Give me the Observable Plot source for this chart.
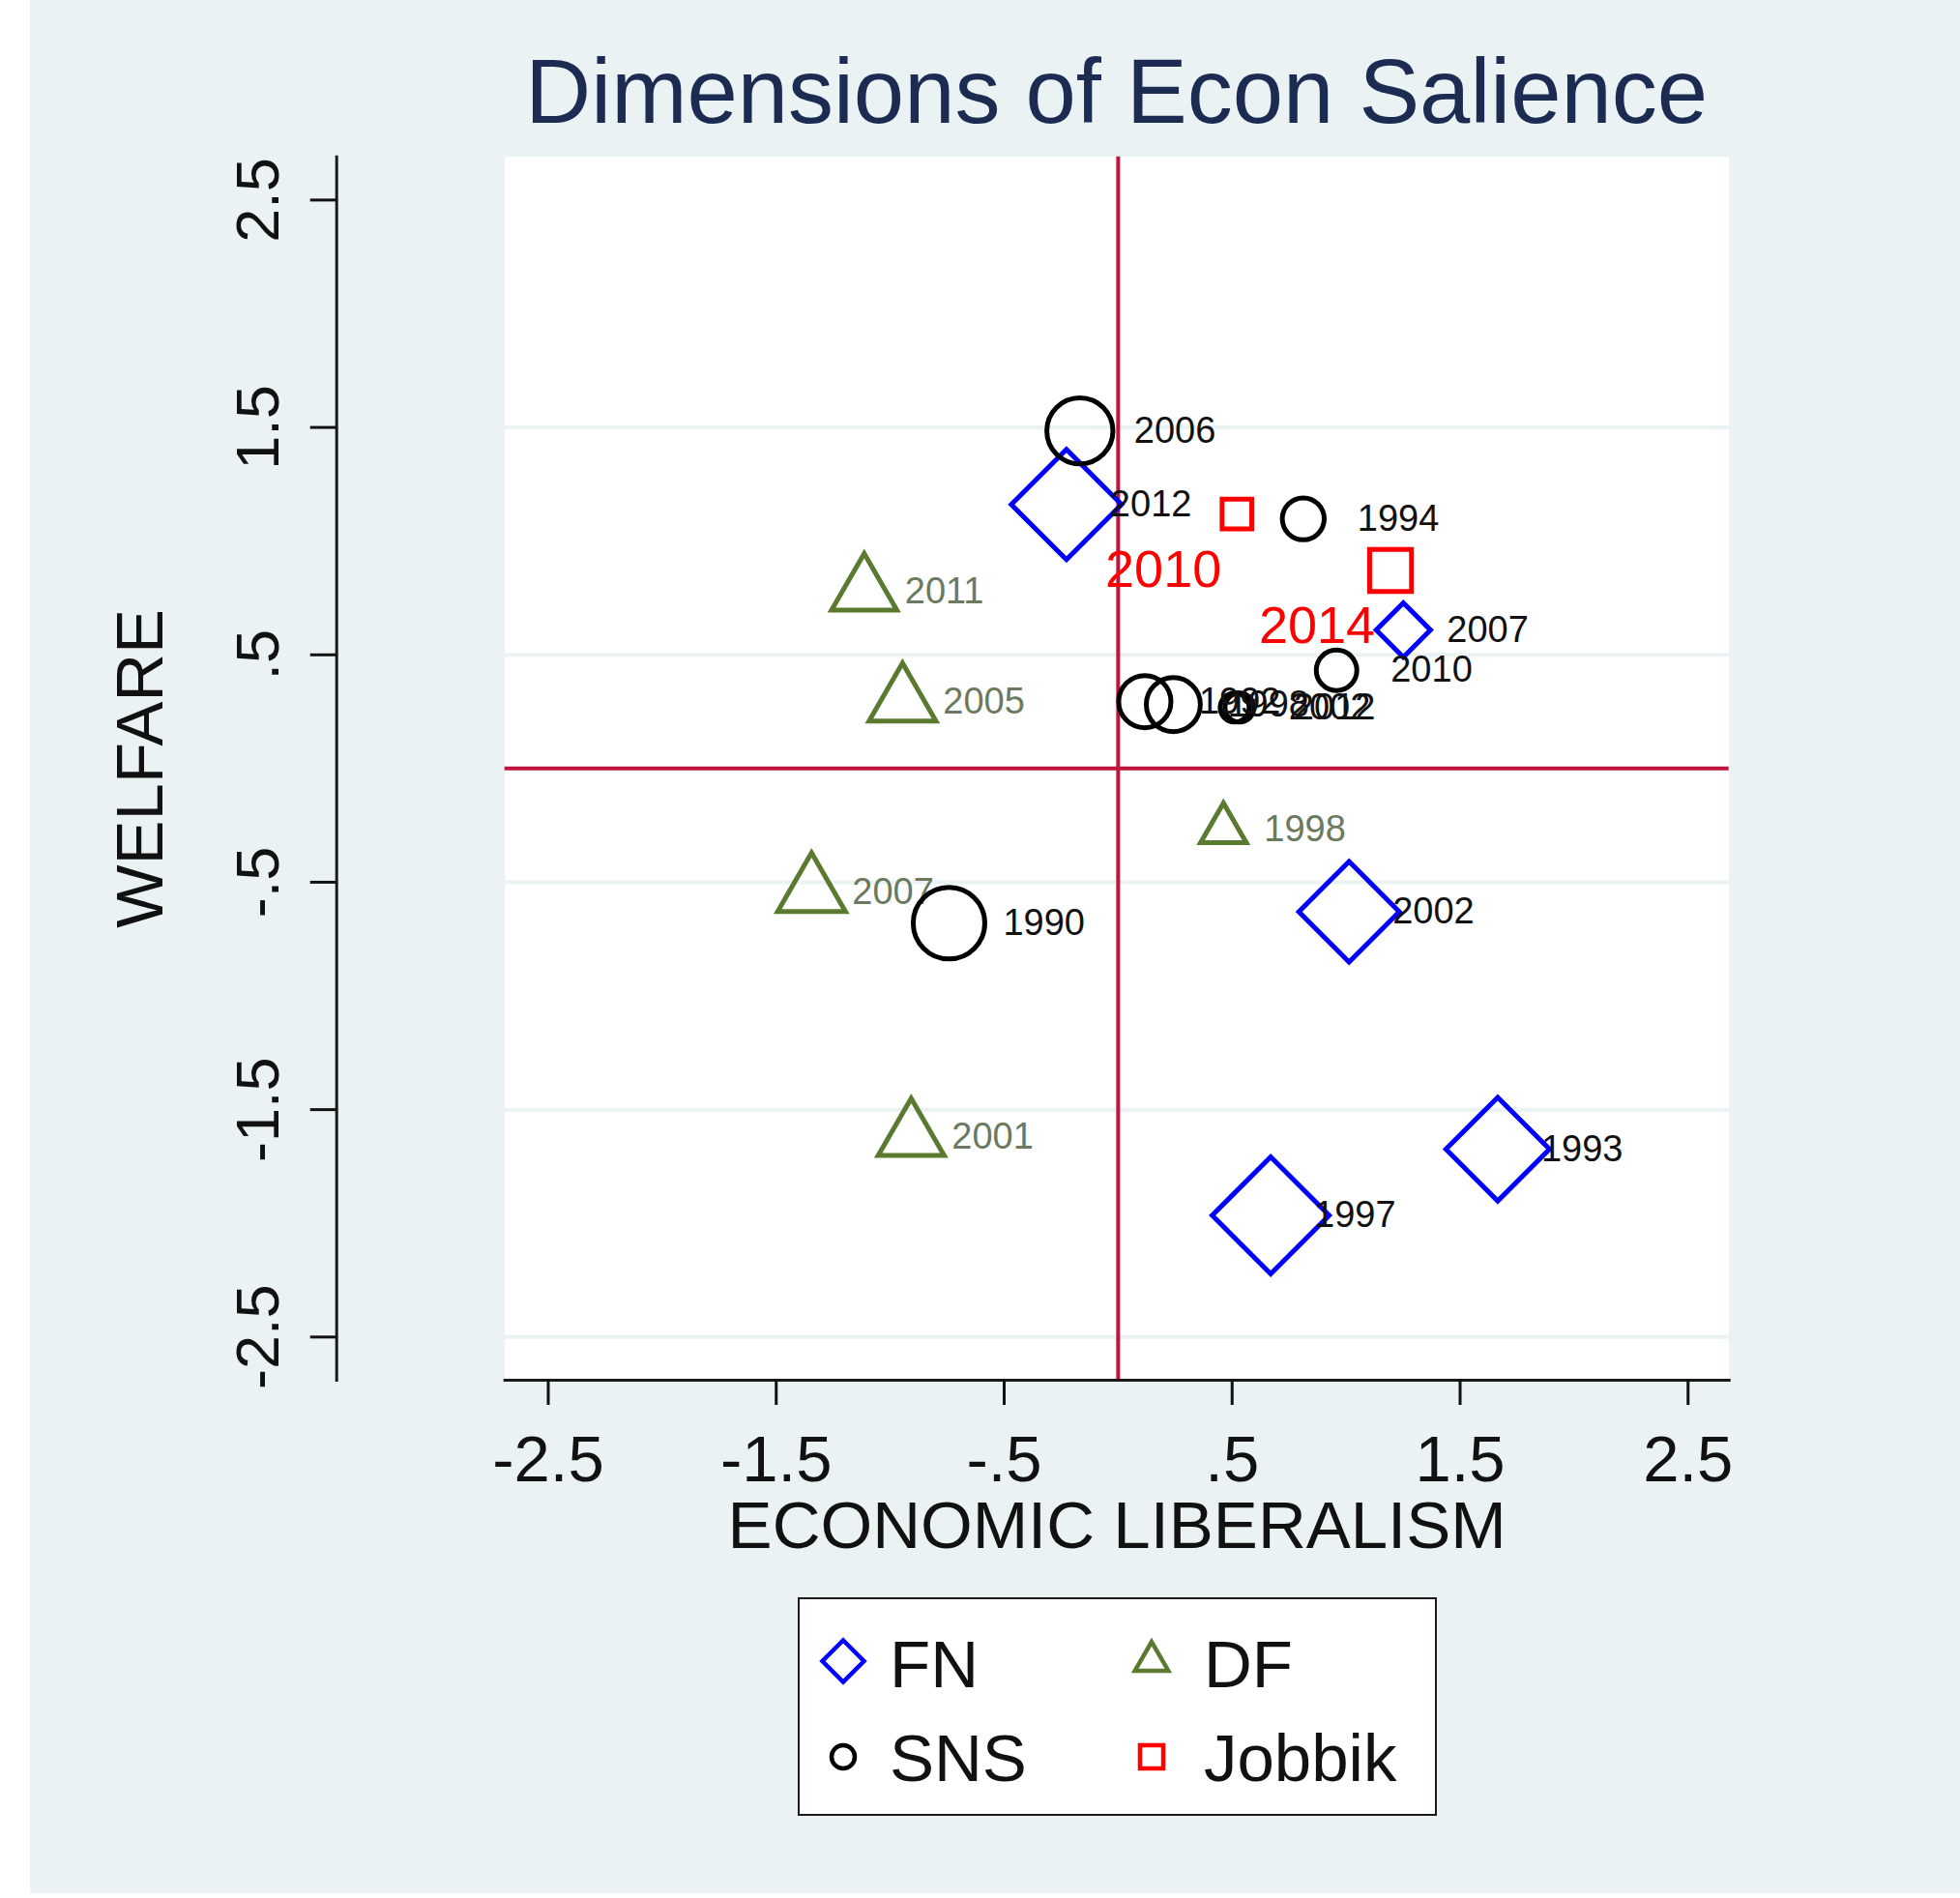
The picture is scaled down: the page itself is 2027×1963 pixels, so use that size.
<!DOCTYPE html>
<html>
<head>
<meta charset="utf-8">
<title>Dimensions of Econ Salience</title>
<script src="https://cdn.jsdelivr.net/npm/d3@7"></script>
<script src="https://cdn.jsdelivr.net/npm/@observablehq/plot@0.6"></script>
<style>
  html, body { margin: 0; padding: 0; background: #ffffff; }
  #page { position: relative; width: 2027px; height: 1963px; background: #ffffff; overflow: hidden;
          font-family: "Liberation Sans", Arial, "DejaVu Sans", sans-serif; }
  #panel { position: absolute; left: 31px; top: 0; width: 1996px; height: 1958px; background: #eaf2f3; }
  #title { position: absolute; left: 521.7px; width: 1266px; top: 48px; margin: 0; text-align: center;
           font-size: 94px; line-height: 94px; font-weight: normal; color: #1c2b52; white-space: nowrap; }
  #chart { position: absolute; left: 0; top: 140px; }
  #legend { position: absolute; left: 825px; top: 1652px; }
</style>
</head>
<body>
<div id="page">
  <div id="panel"></div>
  <h1 id="title">Dimensions of Econ Salience</h1>
  <div id="chart"></div>
  <div id="legend"></div>
</div>
<script>
// ---- Party positions: economic liberalism (x) vs welfare (y), marker weight by election ----

// FN (France)
const fnYear   = [1993, 1997, 2002, 2007, 2012];
const fnEcon   = [1.665, 0.669, 1.013, 1.251, -0.227];
const fnWelf   = [-1.674, -1.965, -0.630, 0.609, 1.161];
const fnWeight = [23.3, 29.7, 21.9, 6.4, 26.4];

// DF (Denmark)
const dfYear   = [1998, 2001, 2005, 2007, 2011];
const dfEcon   = [0.462, -0.908, -0.946, -1.345, -1.114];
const dfWelf   = [-0.268, -1.618, 0.294, -0.543, 0.780];
const dfWeight = [5.1, 10.6, 10.9, 11.2, 10.4];

// SNS (Slovakia)
const snsYear   = [1990, 1992, 1994, 1998, 2002, 2006, 2010, 2012];
const snsEcon   = [-0.742, 0.117, 0.812, 0.242, 0.511, -0.168, 0.958, 0.532];
const snsWelf   = [-0.680, 0.294, 1.098, 0.281, 0.268, 1.485, 0.432, 0.268];
const snsWeight = [13.7, 7.3, 4.7, 7.8, 2.25, 11.7, 4.4, 2.25];

// Jobbik (Hungary)
const jobYear   = [2010, 2014];
const jobEcon   = [0.521, 1.195];
const jobWelf   = [1.119, 0.871];
const jobWeight = [3.8, 7.6];

// Axis ticks, grid lines and reference lines
const xTicks = [-2.5, -1.5, -0.5, 0.5, 1.5, 2.5];
const yTicks = [-2.5, -1.5, -0.5, 0.5, 1.5, 2.5];
const yGrid  = [-2.5, -1.5, -0.5, 0.5, 1.5];
const xRef   = [0];
const yRef   = [0];

const partyNames = ["FN", "DF", "SNS", "Jobbik"];

function rows(party, years, econ, welf, weight) {
  return years.map((year, i) => ({party, year, econ: econ[i], welf: welf[i], weight: weight[i]}));
}
const fn  = rows("FN", fnYear, fnEcon, fnWelf, fnWeight);
const df  = rows("DF", dfYear, dfEcon, dfWelf, dfWeight);
const sns = rows("SNS", snsYear, snsEcon, snsWelf, snsWeight);
const job = rows("Jobbik", jobYear, jobEcon, jobWelf, jobWeight);

// Stata-style tick labels: ".5", "-.5", "1.5"
const stataFmt = (d) => String(d).replace("0.", ".");

const FONT = "'Liberation Sans', Arial, 'DejaVu Sans', sans-serif";
const style = {
  FN:     {symbol: "diamond2",  stroke: "#0000ff", label: "#111111"},
  DF:     {symbol: "triangle2", stroke: "#5a7a30", label: "#6b7a5e"},
  SNS:    {symbol: "circle",    stroke: "#000000", label: "#111111"},
  Jobbik: {symbol: "square2",   stroke: "#ff0000", label: "#ff0000"}
};

const dots = (data, s) => Plot.dot(data, {
  x: "econ", y: "welf", r: "weight", symbol: s.symbol,
  stroke: s.stroke, strokeWidth: 5, fill: "none", sort: null
});
const yearLabels = (data, s, dx) => Plot.text(data, {
  x: "econ", y: "welf", text: (d) => String(d.year), dx,
  textAnchor: "start", fontSize: 38, fill: s.label
});

const chart = Plot.plot({
  width: 2027,
  height: 1480,
  marginLeft: 521.7,
  marginRight: 239.3,
  marginTop: 21.7,
  marginBottom: 193,
  style: {background: "transparent", fontFamily: FONT, overflow: "visible"},
  x: {domain: [-2.69, 2.68]},
  y: {domain: [-2.69, 2.69]},
  r: {type: "sqrt", domain: [0, 100], range: [0, 100]},
  marks: [
    // white plot region
    Plot.frame({fill: "white", stroke: null}),
    // horizontal grid lines
    Plot.ruleY(yGrid, {stroke: "#eaf2f3", strokeWidth: 4}),
    // zero reference lines
    Plot.ruleX(xRef, {stroke: "#c0143c", strokeWidth: 4}),
    Plot.ruleY(yRef, {stroke: "#c0143c", strokeWidth: 4}),
    // axis lines
    Plot.frame({anchor: "bottom", stroke: "#1a1a1a", strokeWidth: 3}),
    Plot.frame({anchor: "left", dx: -174, stroke: "#1a1a1a", strokeWidth: 3}),
    Plot.axisX({
      ticks: xTicks, tickFormat: stataFmt, tickSize: 26, tickPadding: 31,
      fontSize: 67, color: "#111111", strokeWidth: 3, label: null
    }),
    Plot.axisY({
      ticks: yTicks, tickFormat: stataFmt, tickSize: 27, tickPadding: 33, tickRotate: -90,
      dx: -174, fontSize: 63, color: "#111111", strokeWidth: 3, label: null
    }),
    // axis titles
    Plot.text(["ECONOMIC LIBERALISM"], {
      frameAnchor: "bottom", text: (d) => d, dy: 173, lineAnchor: "bottom",
      textAnchor: "middle", fontSize: 69, fill: "#111111"
    }),
    Plot.text(["WELFARE"], {
      frameAnchor: "left", text: (d) => d, dx: -376.5, rotate: -90,
      textAnchor: "middle", lineAnchor: "middle", fontSize: 69, fill: "#111111"
    }),
    // series
    dots(fn, style.FN),
    yearLabels(fn, style.FN, 45),
    dots(df, style.DF),
    yearLabels(df, style.DF, 42),
    dots(sns, style.SNS),
    yearLabels(sns, style.SNS, 56),
    dots(job, style.Jobbik),
    Plot.text(job, {
      x: "econ", y: "welf", text: (d) => String(d.year), dx: -16, dy: 58,
      textAnchor: "end", fontSize: 54, fill: style.Jobbik.label
    })
  ]
});
document.getElementById("chart").appendChild(chart);

// ---- Legend: two columns, two rows ----
const legendSymbols = {
  FN:     {type: d3.symbolDiamond2,  r: 19.4},
  DF:     {type: d3.symbolTriangle2, r: 16.5},
  SNS:    {type: d3.symbolCircle,    r: 12},
  Jobbik: {type: d3.symbolSquare2,   r: 15.3}
};
const lw = 661, lh = 226;
const legend = d3.create("svg")
  .attr("width", lw).attr("height", lh)
  .style("display", "block")
  .style("font-family", FONT);
legend.append("rect")
  .attr("x", 1).attr("y", 1).attr("width", lw - 2).attr("height", lh - 2)
  .attr("fill", "#ffffff").attr("stroke", "#1a1a1a").attr("stroke-width", 2);

const colSymX = [47, 366], colTextX = [95, 420];
const rowSymY = [66, 165], rowTextY = [93, 190];
partyNames.forEach((name, i) => {
  const col = i % 2, row = Math.floor(i / 2);
  const sym = legendSymbols[name];
  legend.append("path")
    .attr("transform", `translate(${colSymX[col]},${rowSymY[row]})`)
    .attr("d", d3.symbol(sym.type, Math.PI * sym.r * sym.r)())
    .attr("fill", "none")
    .attr("stroke", style[name].stroke)
    .attr("stroke-width", 4.5);
  legend.append("text")
    .attr("x", colTextX[col]).attr("y", rowTextY[row])
    .attr("font-size", 69).attr("fill", "#111111")
    .text(name);
});
document.getElementById("legend").appendChild(legend.node());
</script>
</body>
</html>
